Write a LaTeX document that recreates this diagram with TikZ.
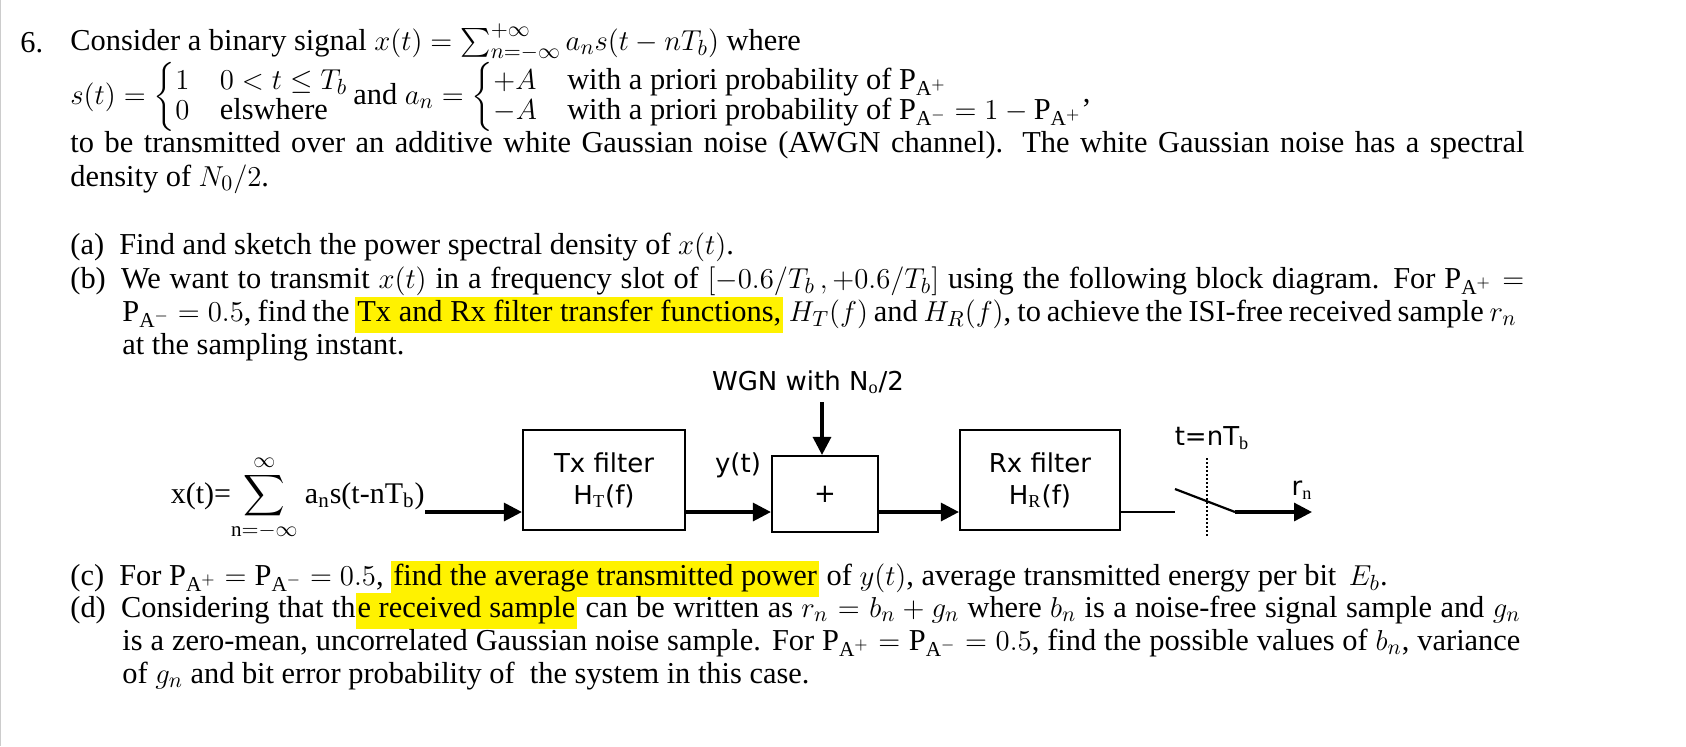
\documentclass[tikz,border=0pt]{standalone}
\usepackage{amsmath}
\usepackage{fontspec}
\setmainfont{Liberation Serif}
\newfontfamily\dsans{DejaVu Sans}
\usetikzlibrary{arrows.meta}
\newcommand{\jl}[2]{\makebox[#1][s]{#2}}
\newcommand{\hly}[1]{{\setlength{\fboxsep}{1pt}\colorbox{yellow}{\strut #1}}}
\begin{document}
\begin{tikzpicture}[x=0.5pt,y=-0.5pt,
  txt/.style={anchor=base west,inner sep=0pt,font=\fontsize{15.2}{16}\selectfont},
  blk/.style={draw,line width=1.1pt,inner sep=0pt,font=\dsans\fontsize{13}{16}\selectfont,align=center},
  lab/.style={inner sep=0pt,font=\dsans\fontsize{13}{15}\selectfont},
  arr/.style={line width=1.6pt,-{Triangle[length=9pt,width=9pt]}}]
\useasboundingbox (0,0) rectangle (1686,746);
\fill[white] (0,0) rectangle (1686,746);
\draw[gray!40] (0,0) -- (0,746);
\node[txt] (n6) at (20,52) {6.};
\node[txt] (l1) at (70,50) {Consider a binary signal $x(t)=\sum_{n=-\infty}^{+\infty}a_n s(t-nT_b)$ where};
\node[txt] (l2) at (70,104) {$s(t)=\begin{cases}1 & 0<t\le T_b\\[-4pt] 0 & \text{elswhere}\end{cases}$\hspace{-2pt} and $a_n=\begin{cases}+A & \text{with a priori probability of } \mathrm{P_{A^+}}\\[-4pt] -A & \text{with a priori probability of } \mathrm{P_{A^-}}=1-\mathrm{P_{A^+}}\text{'}\end{cases}$};
\node[txt] (l3) at (70,152) {\jl{727pt}{to be transmitted over an additive white Gaussian noise (AWGN channel). The white Gaussian noise has a spectral}};
\node[txt] (l4) at (70,186) {density of $N_0/2$.};
\node[txt] (la) at (70,254) {(a)\enspace Find and sketch the power spectral density of $x(t)$.};
\node[txt] (lb) at (70,288) {\jl{727pt}{(b)\enspace We want to transmit $x(t)$ in a frequency slot of $[-0.6/T_b\,,+0.6/T_b]$ using the following block diagram. For $\mathrm{P_{A^+}}=$}};
\node[txt] (lb2) at (122,321) {\jl{697pt}{$\mathrm{P_{A^-}}=0.5$, find the \hly{Tx and Rx filter transfer functions,} $H_T(f)$ and $H_R(f)$, to achieve the ISI-free received sample $r_n$}};
\node[txt] (lb3) at (122,354) {at the sampling instant.};
\node[txt] (lc) at (70,585) {(c)\enspace For $\mathrm{P_{A^+}}=\mathrm{P_{A^-}}=0.5$, \hly{find the average transmitted power} of $y(t)$, average transmitted energy per bit $\,E_b$.};
\node[txt] (ld) at (70,617) {\jl{725pt}{(d)\enspace Considering that th\hly{e received sample} can be written as $r_n=b_n+g_n$ where $b_n$ is a noise-free signal sample and $g_n$}};
\node[txt] (ld2) at (122,650) {\jl{699pt}{is a zero-mean, uncorrelated Gaussian noise sample. For $\mathrm{P_{A^+}}=\mathrm{P_{A^-}}=0.5$, find the possible values of $b_n$, variance}};
\node[txt] (ld3) at (122,683) {of $g_n$ and bit error probability of \ the system in this case.};
% diagram
\node[blk,minimum width=81pt,minimum height=50pt] (tx) at (604,480) {Tx filter\\H$_\mathrm{T}$(f)};
\node[blk,minimum width=53pt,minimum height=38pt] (add) at (825,494) {+};
\node[blk,minimum width=80pt,minimum height=50pt] (rx) at (1040,480) {Rx filter\\H$_\mathrm{R}$(f)};
\node[anchor=east,inner sep=0pt,font=\fontsize{15}{16}\selectfont] (x) at (425,498) {x(t)=$\displaystyle\sum_{\mathrm{n}=-\infty}^{\infty}$ a$_\mathrm{n}$s(t-nT$_\mathrm{b}$)};
\node[lab] (wgn) at (808,382) {WGN with N$_\mathrm{o}$/2};
\node[lab] (yt) at (738,465) {y(t)};
\node[lab] (tn) at (1212,438) {t=nT$_\mathrm{b}$};
\node[lab] (rn) at (1302,490) {r$_\mathrm{n}$};
\coordinate (s1) at (1175,512);
\coordinate (s2) at (1175,489);
\coordinate (s3) at (1235,512);
\coordinate (out) at (1312,512);
\draw[arr] (x.east |- 0,512) -- (tx.west |- 0,512);
\draw[arr] (tx.east |- 0,512) -- (add.west |- 0,512);
\draw[arr] (add.east |- 0,512) -- (rx.west |- 0,512);
\draw[arr] (822,402) -- (add.north -| 822,0);
\draw[line width=1.1pt] (rx.east |- 0,512) -- (s1);
\draw[line width=1.1pt] (s2) -- (s3);
\draw[arr] (s3) -- (out);
\draw[densely dotted,line width=1pt] (1207,458) -- (1207,538);
\end{tikzpicture}
\end{document}
